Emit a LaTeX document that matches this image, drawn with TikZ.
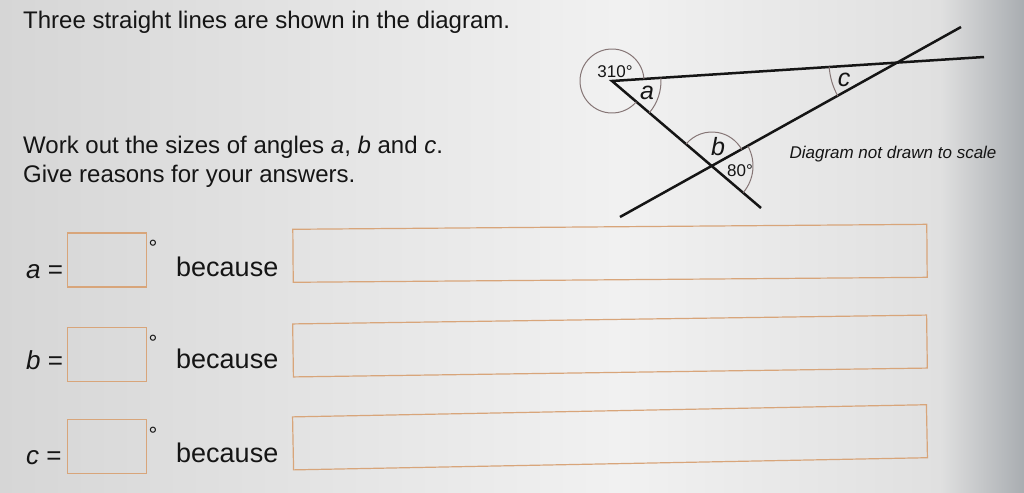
\documentclass[tikz,border=0pt]{standalone}
\usepackage{fontspec}
\setmainfont{Liberation Sans}
\usetikzlibrary{calc}

\definecolor{pageL}{HTML}{D6D6D6}
\definecolor{pageM}{HTML}{F1F1F1}
\definecolor{pageN}{HTML}{E0E0E0}
\definecolor{pageR}{HTML}{A9ADB1}
\definecolor{arcgray}{HTML}{857575}
\definecolor{boxtan}{HTML}{D8A57A}
\definecolor{ink}{HTML}{151515}

\tikzset{
  txt/.style={inner sep=0pt, anchor=base west, text=ink, font=\fontsize{24}{29}\selectfont},
  rowtxt/.style={inner sep=0pt, anchor=base west, text=ink, font=\fontsize{27}{32}\selectfont},
  lbl/.style={inner sep=0pt, text=ink, font=\fontsize{17}{20}\selectfont},
  ang/.style={inner sep=0pt, text=ink, font=\fontsize{25}{30}\selectfont\itshape},
  geo/.style={draw=ink, line width=2.5pt, line join=miter},
  arcline/.style={draw=arcgray, line width=1pt},
  ansbox/.style={draw=boxtan, line width=1.2pt, inner sep=0pt},
}

\begin{document}
\begin{tikzpicture}[x=1pt, y=-1pt]

    \useasboundingbox (0,0) rectangle (1024,492);
    \shade[left color=pageL, right color=pageM] (0,0) rectangle (620,492);
    \shade[left color=pageM, right color=pageN] (620,0) rectangle (940,492);
    \shade[left color=pageN, right color=pageR] (940,0) rectangle (1024,492);

    % question text
    \node[txt] (title) at (23,29) {Three straight lines are shown in the diagram.};
    \node[txt] (task) at (23,153) {Work out the sizes of angles \textit{a}, \textit{b} and \textit{c}.};
    \node[txt] (reason) at (23,182.5) {Give reasons for your answers.};

    % the three lines
    \coordinate (A) at (612,81);
    \coordinate (B) at (712,166);
    \coordinate (C) at (899,62);
    \coordinate (topend) at (984,57);
    \coordinate (lowend) at (761,208);
    \coordinate (crossL) at (620,217);
    \coordinate (crossR) at (961,27);

    \draw[geo] (topend) -- (A) -- (lowend);
    \draw[geo] (crossL) -- (crossR);

    % angle arcs
    \draw[arcline] ([shift={(40.4:32)}]A) arc[start angle=40.4, end angle=356.2, radius=32];
    \draw[arcline] ([shift={(-3.8:49)}]A) arc[start angle=-3.8, end angle=40.4, radius=49];
    \draw[arcline] ([shift={(220.4:34)}]B) arc[start angle=220.4, end angle=331, radius=34];
    \draw[arcline] ([shift={(-29:41)}]B) arc[start angle=-29, end angle=40.4, radius=41];
    \draw[arcline] ([shift={(151:70)}]C) arc[start angle=151, end angle=176.2, radius=70];

    \node[lbl] (l310) at (615,72) {310°};
    \node[ang] (la) at (647,93) {a};
    \node[ang] (lb) at (718,147) {b};
    \node[lbl] (l80) at (740,171) {80°};
    \node[ang] (lc) at (844,80) {c};
    \node[lbl, font=\fontsize{17}{20}\selectfont\itshape] (note) at (893,154) {Diagram not drawn to scale};

    % answer rows
    \foreach \v/\ys/\yb/\yt/\tilt in {a/260/253.3/276.7/0.45, b/354.5/346/368.3/0.8, c/446.5/437.3/462.7/1.1} {
        \node[ansbox, minimum width=79, minimum height=54] (ans\v) at (107,\ys) {};
        \node[rowtxt, font=\fontsize{26}{30}\selectfont] (eq\v) at (26,\yt+1.5) {\textit{\v} =};
        \node[inner sep=0pt, text=ink, font=\fontsize{22}{26}\selectfont] (deg\v) at (153,\ys-12) {°};
        \node[rowtxt] (bec\v) at (176,\yt) {because};
        \node[ansbox, rotate=\tilt, minimum width=634, minimum height=53] (why\v) at (610,\yb) {};
    }

\end{tikzpicture}
\end{document}
